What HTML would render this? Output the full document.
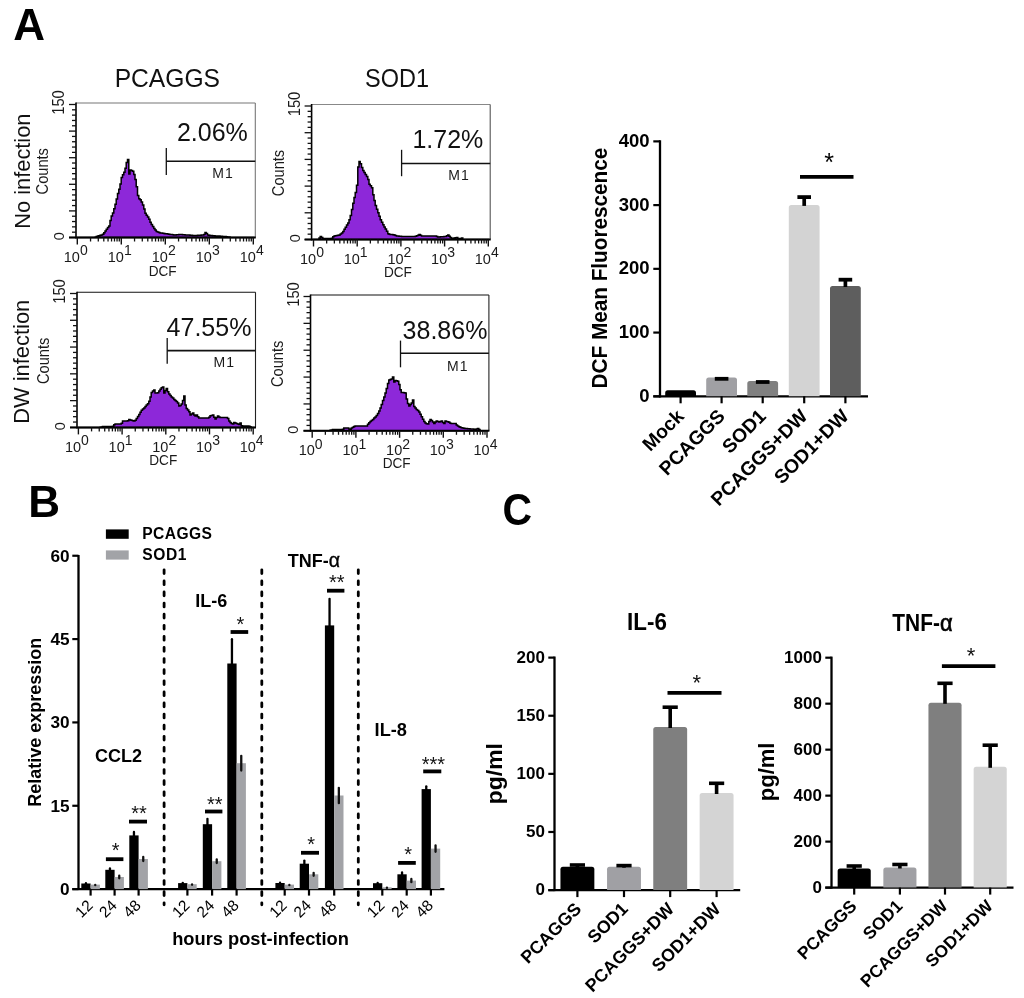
<!DOCTYPE html>
<html><head><meta charset="utf-8"><title>Figure</title>
<style>
html,body{margin:0;padding:0;background:#fff;}
body{width:1024px;height:998px;overflow:hidden;}
svg{display:block;font-family:'Liberation Sans', Arial, Helvetica, sans-serif;}
</style></head>
<body>
<svg width="1024" height="998" viewBox="0 0 1024 998">
<rect x="0" y="0" width="1024" height="998" fill="#fff"/>
<text x="13.30" y="40.30" font-size="44" font-weight="bold" text-anchor="start" fill="#000">A</text>
<text x="28.20" y="516.60" font-size="44" font-weight="bold" text-anchor="start" fill="#000">B</text>
<text x="0" y="0" transform="translate(502.50 525.00) scale(0.93 1)" font-size="44" font-weight="bold" text-anchor="start" fill="#000">C</text>
<path d="M77.0,237.5 L95.0,237.5 V237.2 H96.2 V236.6 H97.5 V236.1 H98.8 V235.7 H100.0 V235.3 H101.2 V234.9 H102.5 V234.3 H103.8 V232.7 H105.0 V231.0 H106.2 V229.3 H107.5 V227.6 H108.8 V225.9 H110.0 V220.6 H111.2 V215.9 H112.5 V212.9 H113.8 V208.8 H115.0 V204.3 H116.2 V199.1 H117.5 V193.6 H118.8 V189.2 H120.0 V183.9 H121.2 V177.6 H122.5 V174.8 H123.8 V172.2 H125.0 V168.2 H126.2 V162.6 H127.5 V159.5 H128.8 V174.0 H130.0 V170.0 H131.2 V170.4 H132.5 V171.2 H133.8 V174.5 H135.0 V179.5 H136.2 V186.8 H137.5 V195.4 H138.8 V198.7 H140.0 V199.7 H141.2 V202.1 H142.5 V205.1 H143.8 V209.1 H145.0 V213.2 H146.2 V215.2 H147.5 V217.1 H148.8 V219.3 H150.0 V222.2 H151.2 V224.5 H152.5 V226.5 H153.8 V228.4 H155.0 V229.9 H156.2 V231.4 H157.5 V231.9 H158.8 V232.4 H160.0 V232.9 H161.2 V233.1 H162.5 V233.3 H163.8 V233.5 H165.0 V233.7 H166.2 V233.8 H167.5 V234.0 H168.8 V234.2 H170.0 V234.4 H171.2 V234.6 H172.5 V234.7 H173.8 V234.9 H175.0 V235.0 H176.2 V234.8 H177.5 V234.7 H178.8 V234.6 H180.0 V234.5 H181.2 V234.6 H182.5 V234.7 H183.8 V234.8 H185.0 V234.9 H186.2 V235.0 H187.5 V235.0 H188.8 V235.1 H190.0 V235.2 H191.2 V235.3 H192.5 V235.4 H193.8 V235.5 H195.0 V235.5 H196.2 V235.4 H197.5 V235.3 H198.8 V235.3 H200.0 V235.2 H201.2 V235.1 H202.5 V235.0 H203.8 V234.5 H205.0 V232.5 H206.2 V233.6 H207.5 V235.0 H208.8 V235.3 H210.0 V235.5 H211.2 V235.6 H212.5 V235.7 H213.8 V235.8 H215.0 V235.9 H216.2 V236.0 H217.5 V236.0 H218.8 V236.1 H220.0 V236.2 H221.2 V236.3 H222.5 V236.4 H223.8 V236.5 H225.0 V236.6 H226.2 V236.7 H227.5 V236.9 H228.8 V237.1 H230.0 V237.4 H231.0 V237.5 L254.3,237.5 Z" fill="#8d28d9" stroke="#000" stroke-width="1.5" stroke-linejoin="miter"/>
<line x1="76.00" y1="103.00" x2="255.30" y2="103.00" stroke="#777" stroke-width="1.1" stroke-linecap="butt"/>
<line x1="255.30" y1="103.00" x2="255.30" y2="237.50" stroke="#777" stroke-width="1.1" stroke-linecap="butt"/>
<line x1="76.00" y1="102.50" x2="76.00" y2="238.50" stroke="#000" stroke-width="1.6" stroke-linecap="butt"/>
<line x1="69.00" y1="104.50" x2="76.00" y2="104.50" stroke="#111" stroke-width="1.3" stroke-linecap="butt"/>
<line x1="72.00" y1="109.82" x2="76.00" y2="109.82" stroke="#111" stroke-width="1.3" stroke-linecap="butt"/>
<line x1="72.00" y1="115.14" x2="76.00" y2="115.14" stroke="#111" stroke-width="1.3" stroke-linecap="butt"/>
<line x1="72.00" y1="120.46" x2="76.00" y2="120.46" stroke="#111" stroke-width="1.3" stroke-linecap="butt"/>
<line x1="72.00" y1="125.78" x2="76.00" y2="125.78" stroke="#111" stroke-width="1.3" stroke-linecap="butt"/>
<line x1="69.00" y1="131.10" x2="76.00" y2="131.10" stroke="#111" stroke-width="1.3" stroke-linecap="butt"/>
<line x1="72.00" y1="136.42" x2="76.00" y2="136.42" stroke="#111" stroke-width="1.3" stroke-linecap="butt"/>
<line x1="72.00" y1="141.74" x2="76.00" y2="141.74" stroke="#111" stroke-width="1.3" stroke-linecap="butt"/>
<line x1="72.00" y1="147.06" x2="76.00" y2="147.06" stroke="#111" stroke-width="1.3" stroke-linecap="butt"/>
<line x1="72.00" y1="152.38" x2="76.00" y2="152.38" stroke="#111" stroke-width="1.3" stroke-linecap="butt"/>
<line x1="69.00" y1="157.70" x2="76.00" y2="157.70" stroke="#111" stroke-width="1.3" stroke-linecap="butt"/>
<line x1="72.00" y1="163.02" x2="76.00" y2="163.02" stroke="#111" stroke-width="1.3" stroke-linecap="butt"/>
<line x1="72.00" y1="168.34" x2="76.00" y2="168.34" stroke="#111" stroke-width="1.3" stroke-linecap="butt"/>
<line x1="72.00" y1="173.66" x2="76.00" y2="173.66" stroke="#111" stroke-width="1.3" stroke-linecap="butt"/>
<line x1="72.00" y1="178.98" x2="76.00" y2="178.98" stroke="#111" stroke-width="1.3" stroke-linecap="butt"/>
<line x1="69.00" y1="184.30" x2="76.00" y2="184.30" stroke="#111" stroke-width="1.3" stroke-linecap="butt"/>
<line x1="72.00" y1="189.62" x2="76.00" y2="189.62" stroke="#111" stroke-width="1.3" stroke-linecap="butt"/>
<line x1="72.00" y1="194.94" x2="76.00" y2="194.94" stroke="#111" stroke-width="1.3" stroke-linecap="butt"/>
<line x1="72.00" y1="200.26" x2="76.00" y2="200.26" stroke="#111" stroke-width="1.3" stroke-linecap="butt"/>
<line x1="72.00" y1="205.58" x2="76.00" y2="205.58" stroke="#111" stroke-width="1.3" stroke-linecap="butt"/>
<line x1="69.00" y1="210.90" x2="76.00" y2="210.90" stroke="#111" stroke-width="1.3" stroke-linecap="butt"/>
<line x1="72.00" y1="216.22" x2="76.00" y2="216.22" stroke="#111" stroke-width="1.3" stroke-linecap="butt"/>
<line x1="72.00" y1="221.54" x2="76.00" y2="221.54" stroke="#111" stroke-width="1.3" stroke-linecap="butt"/>
<line x1="72.00" y1="226.86" x2="76.00" y2="226.86" stroke="#111" stroke-width="1.3" stroke-linecap="butt"/>
<line x1="72.00" y1="232.18" x2="76.00" y2="232.18" stroke="#111" stroke-width="1.3" stroke-linecap="butt"/>
<line x1="69.00" y1="237.50" x2="76.00" y2="237.50" stroke="#111" stroke-width="1.3" stroke-linecap="butt"/>
<line x1="69.00" y1="237.50" x2="255.80" y2="237.50" stroke="#000" stroke-width="2" stroke-linecap="butt"/>
<line x1="77.30" y1="237.50" x2="77.30" y2="244.50" stroke="#111" stroke-width="1.4" stroke-linecap="butt"/>
<line x1="90.55" y1="237.50" x2="90.55" y2="241.50" stroke="#111" stroke-width="1.3" stroke-linecap="butt"/>
<line x1="98.29" y1="237.50" x2="98.29" y2="241.50" stroke="#111" stroke-width="1.3" stroke-linecap="butt"/>
<line x1="103.79" y1="237.50" x2="103.79" y2="241.50" stroke="#111" stroke-width="1.3" stroke-linecap="butt"/>
<line x1="108.05" y1="237.50" x2="108.05" y2="241.50" stroke="#111" stroke-width="1.3" stroke-linecap="butt"/>
<line x1="111.54" y1="237.50" x2="111.54" y2="241.50" stroke="#111" stroke-width="1.3" stroke-linecap="butt"/>
<line x1="114.48" y1="237.50" x2="114.48" y2="241.50" stroke="#111" stroke-width="1.3" stroke-linecap="butt"/>
<line x1="117.04" y1="237.50" x2="117.04" y2="241.50" stroke="#111" stroke-width="1.3" stroke-linecap="butt"/>
<line x1="119.29" y1="237.50" x2="119.29" y2="241.50" stroke="#111" stroke-width="1.3" stroke-linecap="butt"/>
<line x1="121.30" y1="237.50" x2="121.30" y2="244.50" stroke="#111" stroke-width="1.4" stroke-linecap="butt"/>
<line x1="134.55" y1="237.50" x2="134.55" y2="241.50" stroke="#111" stroke-width="1.3" stroke-linecap="butt"/>
<line x1="142.29" y1="237.50" x2="142.29" y2="241.50" stroke="#111" stroke-width="1.3" stroke-linecap="butt"/>
<line x1="147.79" y1="237.50" x2="147.79" y2="241.50" stroke="#111" stroke-width="1.3" stroke-linecap="butt"/>
<line x1="152.05" y1="237.50" x2="152.05" y2="241.50" stroke="#111" stroke-width="1.3" stroke-linecap="butt"/>
<line x1="155.54" y1="237.50" x2="155.54" y2="241.50" stroke="#111" stroke-width="1.3" stroke-linecap="butt"/>
<line x1="158.48" y1="237.50" x2="158.48" y2="241.50" stroke="#111" stroke-width="1.3" stroke-linecap="butt"/>
<line x1="161.04" y1="237.50" x2="161.04" y2="241.50" stroke="#111" stroke-width="1.3" stroke-linecap="butt"/>
<line x1="163.29" y1="237.50" x2="163.29" y2="241.50" stroke="#111" stroke-width="1.3" stroke-linecap="butt"/>
<line x1="165.30" y1="237.50" x2="165.30" y2="244.50" stroke="#111" stroke-width="1.4" stroke-linecap="butt"/>
<line x1="178.55" y1="237.50" x2="178.55" y2="241.50" stroke="#111" stroke-width="1.3" stroke-linecap="butt"/>
<line x1="186.29" y1="237.50" x2="186.29" y2="241.50" stroke="#111" stroke-width="1.3" stroke-linecap="butt"/>
<line x1="191.79" y1="237.50" x2="191.79" y2="241.50" stroke="#111" stroke-width="1.3" stroke-linecap="butt"/>
<line x1="196.05" y1="237.50" x2="196.05" y2="241.50" stroke="#111" stroke-width="1.3" stroke-linecap="butt"/>
<line x1="199.54" y1="237.50" x2="199.54" y2="241.50" stroke="#111" stroke-width="1.3" stroke-linecap="butt"/>
<line x1="202.48" y1="237.50" x2="202.48" y2="241.50" stroke="#111" stroke-width="1.3" stroke-linecap="butt"/>
<line x1="205.04" y1="237.50" x2="205.04" y2="241.50" stroke="#111" stroke-width="1.3" stroke-linecap="butt"/>
<line x1="207.29" y1="237.50" x2="207.29" y2="241.50" stroke="#111" stroke-width="1.3" stroke-linecap="butt"/>
<line x1="209.30" y1="237.50" x2="209.30" y2="244.50" stroke="#111" stroke-width="1.4" stroke-linecap="butt"/>
<line x1="222.55" y1="237.50" x2="222.55" y2="241.50" stroke="#111" stroke-width="1.3" stroke-linecap="butt"/>
<line x1="230.29" y1="237.50" x2="230.29" y2="241.50" stroke="#111" stroke-width="1.3" stroke-linecap="butt"/>
<line x1="235.79" y1="237.50" x2="235.79" y2="241.50" stroke="#111" stroke-width="1.3" stroke-linecap="butt"/>
<line x1="240.05" y1="237.50" x2="240.05" y2="241.50" stroke="#111" stroke-width="1.3" stroke-linecap="butt"/>
<line x1="243.54" y1="237.50" x2="243.54" y2="241.50" stroke="#111" stroke-width="1.3" stroke-linecap="butt"/>
<line x1="246.48" y1="237.50" x2="246.48" y2="241.50" stroke="#111" stroke-width="1.3" stroke-linecap="butt"/>
<line x1="249.04" y1="237.50" x2="249.04" y2="241.50" stroke="#111" stroke-width="1.3" stroke-linecap="butt"/>
<line x1="251.29" y1="237.50" x2="251.29" y2="241.50" stroke="#111" stroke-width="1.3" stroke-linecap="butt"/>
<line x1="253.30" y1="237.50" x2="253.30" y2="244.50" stroke="#111" stroke-width="1.4" stroke-linecap="butt"/>
<text x="0" y="0" transform="translate(64.00 102.50) rotate(-90) scale(0.87 1)" font-size="17" text-anchor="middle" fill="#1a1a1a">150</text>
<text x="64.00" y="236.30" font-size="14.5" text-anchor="middle" fill="#1a1a1a" transform="rotate(-90 64 236.3)">0</text>
<text x="0" y="0" transform="translate(48.00 171.25) rotate(-90) scale(0.86 1)" font-size="17" text-anchor="middle" fill="#1a1a1a">Counts</text>
<text x="63.80" y="261.70" font-size="14.5" fill="#1a1a1a">10<tspan dy="-6.4" font-size="14">0</tspan></text>
<text x="107.80" y="261.70" font-size="14.5" fill="#1a1a1a">10<tspan dy="-6.4" font-size="14">1</tspan></text>
<text x="151.80" y="261.70" font-size="14.5" fill="#1a1a1a">10<tspan dy="-6.4" font-size="14">2</tspan></text>
<text x="195.80" y="261.70" font-size="14.5" fill="#1a1a1a">10<tspan dy="-6.4" font-size="14">3</tspan></text>
<text x="239.80" y="261.70" font-size="14.5" fill="#1a1a1a">10<tspan dy="-6.4" font-size="14">4</tspan></text>
<text x="0" y="0" transform="translate(162.65 276.10) scale(0.96 1)" font-size="14.2" text-anchor="middle" fill="#1a1a1a">DCF</text>
<line x1="166.30" y1="148.00" x2="166.30" y2="175.00" stroke="#111" stroke-width="1.3" stroke-linecap="butt"/>
<line x1="166.30" y1="161.30" x2="255.30" y2="161.30" stroke="#111" stroke-width="1.6" stroke-linecap="butt"/>
<text x="247.80" y="141.40" font-size="25" text-anchor="end" fill="#111">2.06%</text>
<text x="212.20" y="178.40" font-size="14" text-anchor="start" fill="#1a1a1a" letter-spacing="1.2">M1</text>
<path d="M312.6,239.5 L319.0,239.5 V237.9 H320.2 V236.5 H321.5 V237.6 H322.8 V238.5 H324.0 V238.5 H325.2 V238.5 H326.5 V238.5 H327.8 V238.5 H329.0 V238.5 H330.2 V238.5 H331.5 V238.3 H332.8 V236.8 H334.0 V235.9 H335.2 V235.7 H336.5 V235.5 H337.8 V235.3 H339.0 V235.1 H340.2 V234.1 H341.5 V232.9 H342.8 V231.4 H344.0 V229.3 H345.2 V227.2 H346.5 V225.1 H347.8 V223.0 H349.0 V219.8 H350.2 V215.4 H351.5 V209.4 H352.8 V203.2 H354.0 V197.5 H355.2 V192.5 H356.5 V185.2 H357.8 V167.0 H359.0 V161.5 H360.2 V163.8 H361.5 V167.4 H362.8 V170.6 H364.0 V172.6 H365.2 V174.6 H366.5 V176.6 H367.8 V179.5 H369.0 V184.2 H370.2 V185.7 H371.5 V187.8 H372.8 V194.8 H374.0 V200.5 H375.2 V205.5 H376.5 V209.2 H377.8 V212.7 H379.0 V216.2 H380.2 V219.7 H381.5 V222.2 H382.8 V224.8 H384.0 V227.0 H385.2 V229.0 H386.5 V231.2 H387.8 V233.8 H389.0 V234.2 H390.2 V234.4 H391.5 V234.6 H392.8 V234.8 H394.0 V234.9 H395.2 V235.4 H396.5 V236.0 H397.8 V236.1 H399.0 V236.2 H400.2 V236.3 H401.5 V236.4 H402.8 V236.5 H404.0 V236.5 H405.2 V236.5 H406.5 V236.5 H407.8 V236.5 H409.0 V236.5 H410.2 V236.5 H411.5 V236.5 H412.8 V236.5 H414.0 V236.5 H415.2 V236.2 H416.5 V235.8 H417.8 V235.3 H419.0 V234.5 H420.2 V235.2 H421.5 V236.0 H422.8 V236.0 H424.0 V236.0 H425.2 V236.0 H426.5 V236.0 H427.8 V236.0 H429.0 V236.0 H430.2 V236.0 H431.5 V236.0 H432.8 V236.0 H434.0 V236.0 H435.2 V236.0 H436.5 V236.6 H437.8 V237.0 H439.0 V236.9 H440.2 V236.8 H441.5 V236.7 H442.8 V236.7 H444.0 V236.6 H445.2 V236.5 H446.5 V235.7 H447.8 V235.0 H449.0 V236.2 H450.2 V237.4 H451.5 V238.5 H452.8 V238.2 H454.0 V238.0 H455.2 V237.7 H456.5 V237.5 H457.8 V238.5 H459.0 V239.0 H460.2 V238.4 H461.5 V238.0 H462.8 V239.5 H463.0 V239.5 L489.2,239.5 Z" fill="#8d28d9" stroke="#000" stroke-width="1.5" stroke-linejoin="miter"/>
<line x1="311.60" y1="104.50" x2="490.20" y2="104.50" stroke="#888" stroke-width="1.1" stroke-linecap="butt"/>
<line x1="490.20" y1="104.50" x2="490.20" y2="239.50" stroke="#555" stroke-width="1.1" stroke-linecap="butt"/>
<line x1="311.60" y1="104.00" x2="311.60" y2="240.50" stroke="#000" stroke-width="1.6" stroke-linecap="butt"/>
<line x1="304.60" y1="106.00" x2="311.60" y2="106.00" stroke="#111" stroke-width="1.3" stroke-linecap="butt"/>
<line x1="307.60" y1="111.34" x2="311.60" y2="111.34" stroke="#111" stroke-width="1.3" stroke-linecap="butt"/>
<line x1="307.60" y1="116.68" x2="311.60" y2="116.68" stroke="#111" stroke-width="1.3" stroke-linecap="butt"/>
<line x1="307.60" y1="122.02" x2="311.60" y2="122.02" stroke="#111" stroke-width="1.3" stroke-linecap="butt"/>
<line x1="307.60" y1="127.36" x2="311.60" y2="127.36" stroke="#111" stroke-width="1.3" stroke-linecap="butt"/>
<line x1="304.60" y1="132.70" x2="311.60" y2="132.70" stroke="#111" stroke-width="1.3" stroke-linecap="butt"/>
<line x1="307.60" y1="138.04" x2="311.60" y2="138.04" stroke="#111" stroke-width="1.3" stroke-linecap="butt"/>
<line x1="307.60" y1="143.38" x2="311.60" y2="143.38" stroke="#111" stroke-width="1.3" stroke-linecap="butt"/>
<line x1="307.60" y1="148.72" x2="311.60" y2="148.72" stroke="#111" stroke-width="1.3" stroke-linecap="butt"/>
<line x1="307.60" y1="154.06" x2="311.60" y2="154.06" stroke="#111" stroke-width="1.3" stroke-linecap="butt"/>
<line x1="304.60" y1="159.40" x2="311.60" y2="159.40" stroke="#111" stroke-width="1.3" stroke-linecap="butt"/>
<line x1="307.60" y1="164.74" x2="311.60" y2="164.74" stroke="#111" stroke-width="1.3" stroke-linecap="butt"/>
<line x1="307.60" y1="170.08" x2="311.60" y2="170.08" stroke="#111" stroke-width="1.3" stroke-linecap="butt"/>
<line x1="307.60" y1="175.42" x2="311.60" y2="175.42" stroke="#111" stroke-width="1.3" stroke-linecap="butt"/>
<line x1="307.60" y1="180.76" x2="311.60" y2="180.76" stroke="#111" stroke-width="1.3" stroke-linecap="butt"/>
<line x1="304.60" y1="186.10" x2="311.60" y2="186.10" stroke="#111" stroke-width="1.3" stroke-linecap="butt"/>
<line x1="307.60" y1="191.44" x2="311.60" y2="191.44" stroke="#111" stroke-width="1.3" stroke-linecap="butt"/>
<line x1="307.60" y1="196.78" x2="311.60" y2="196.78" stroke="#111" stroke-width="1.3" stroke-linecap="butt"/>
<line x1="307.60" y1="202.12" x2="311.60" y2="202.12" stroke="#111" stroke-width="1.3" stroke-linecap="butt"/>
<line x1="307.60" y1="207.46" x2="311.60" y2="207.46" stroke="#111" stroke-width="1.3" stroke-linecap="butt"/>
<line x1="304.60" y1="212.80" x2="311.60" y2="212.80" stroke="#111" stroke-width="1.3" stroke-linecap="butt"/>
<line x1="307.60" y1="218.14" x2="311.60" y2="218.14" stroke="#111" stroke-width="1.3" stroke-linecap="butt"/>
<line x1="307.60" y1="223.48" x2="311.60" y2="223.48" stroke="#111" stroke-width="1.3" stroke-linecap="butt"/>
<line x1="307.60" y1="228.82" x2="311.60" y2="228.82" stroke="#111" stroke-width="1.3" stroke-linecap="butt"/>
<line x1="307.60" y1="234.16" x2="311.60" y2="234.16" stroke="#111" stroke-width="1.3" stroke-linecap="butt"/>
<line x1="304.60" y1="239.50" x2="311.60" y2="239.50" stroke="#111" stroke-width="1.3" stroke-linecap="butt"/>
<line x1="304.60" y1="239.50" x2="490.70" y2="239.50" stroke="#000" stroke-width="2" stroke-linecap="butt"/>
<line x1="313.50" y1="239.50" x2="313.50" y2="246.50" stroke="#111" stroke-width="1.4" stroke-linecap="butt"/>
<line x1="326.66" y1="239.50" x2="326.66" y2="243.50" stroke="#111" stroke-width="1.3" stroke-linecap="butt"/>
<line x1="334.35" y1="239.50" x2="334.35" y2="243.50" stroke="#111" stroke-width="1.3" stroke-linecap="butt"/>
<line x1="339.81" y1="239.50" x2="339.81" y2="243.50" stroke="#111" stroke-width="1.3" stroke-linecap="butt"/>
<line x1="344.04" y1="239.50" x2="344.04" y2="243.50" stroke="#111" stroke-width="1.3" stroke-linecap="butt"/>
<line x1="347.51" y1="239.50" x2="347.51" y2="243.50" stroke="#111" stroke-width="1.3" stroke-linecap="butt"/>
<line x1="350.43" y1="239.50" x2="350.43" y2="243.50" stroke="#111" stroke-width="1.3" stroke-linecap="butt"/>
<line x1="352.97" y1="239.50" x2="352.97" y2="243.50" stroke="#111" stroke-width="1.3" stroke-linecap="butt"/>
<line x1="355.20" y1="239.50" x2="355.20" y2="243.50" stroke="#111" stroke-width="1.3" stroke-linecap="butt"/>
<line x1="357.20" y1="239.50" x2="357.20" y2="246.50" stroke="#111" stroke-width="1.4" stroke-linecap="butt"/>
<line x1="370.36" y1="239.50" x2="370.36" y2="243.50" stroke="#111" stroke-width="1.3" stroke-linecap="butt"/>
<line x1="378.05" y1="239.50" x2="378.05" y2="243.50" stroke="#111" stroke-width="1.3" stroke-linecap="butt"/>
<line x1="383.51" y1="239.50" x2="383.51" y2="243.50" stroke="#111" stroke-width="1.3" stroke-linecap="butt"/>
<line x1="387.74" y1="239.50" x2="387.74" y2="243.50" stroke="#111" stroke-width="1.3" stroke-linecap="butt"/>
<line x1="391.21" y1="239.50" x2="391.21" y2="243.50" stroke="#111" stroke-width="1.3" stroke-linecap="butt"/>
<line x1="394.13" y1="239.50" x2="394.13" y2="243.50" stroke="#111" stroke-width="1.3" stroke-linecap="butt"/>
<line x1="396.67" y1="239.50" x2="396.67" y2="243.50" stroke="#111" stroke-width="1.3" stroke-linecap="butt"/>
<line x1="398.90" y1="239.50" x2="398.90" y2="243.50" stroke="#111" stroke-width="1.3" stroke-linecap="butt"/>
<line x1="400.90" y1="239.50" x2="400.90" y2="246.50" stroke="#111" stroke-width="1.4" stroke-linecap="butt"/>
<line x1="414.06" y1="239.50" x2="414.06" y2="243.50" stroke="#111" stroke-width="1.3" stroke-linecap="butt"/>
<line x1="421.75" y1="239.50" x2="421.75" y2="243.50" stroke="#111" stroke-width="1.3" stroke-linecap="butt"/>
<line x1="427.21" y1="239.50" x2="427.21" y2="243.50" stroke="#111" stroke-width="1.3" stroke-linecap="butt"/>
<line x1="431.44" y1="239.50" x2="431.44" y2="243.50" stroke="#111" stroke-width="1.3" stroke-linecap="butt"/>
<line x1="434.91" y1="239.50" x2="434.91" y2="243.50" stroke="#111" stroke-width="1.3" stroke-linecap="butt"/>
<line x1="437.83" y1="239.50" x2="437.83" y2="243.50" stroke="#111" stroke-width="1.3" stroke-linecap="butt"/>
<line x1="440.37" y1="239.50" x2="440.37" y2="243.50" stroke="#111" stroke-width="1.3" stroke-linecap="butt"/>
<line x1="442.60" y1="239.50" x2="442.60" y2="243.50" stroke="#111" stroke-width="1.3" stroke-linecap="butt"/>
<line x1="444.60" y1="239.50" x2="444.60" y2="246.50" stroke="#111" stroke-width="1.4" stroke-linecap="butt"/>
<line x1="457.76" y1="239.50" x2="457.76" y2="243.50" stroke="#111" stroke-width="1.3" stroke-linecap="butt"/>
<line x1="465.45" y1="239.50" x2="465.45" y2="243.50" stroke="#111" stroke-width="1.3" stroke-linecap="butt"/>
<line x1="470.91" y1="239.50" x2="470.91" y2="243.50" stroke="#111" stroke-width="1.3" stroke-linecap="butt"/>
<line x1="475.14" y1="239.50" x2="475.14" y2="243.50" stroke="#111" stroke-width="1.3" stroke-linecap="butt"/>
<line x1="478.61" y1="239.50" x2="478.61" y2="243.50" stroke="#111" stroke-width="1.3" stroke-linecap="butt"/>
<line x1="481.53" y1="239.50" x2="481.53" y2="243.50" stroke="#111" stroke-width="1.3" stroke-linecap="butt"/>
<line x1="484.07" y1="239.50" x2="484.07" y2="243.50" stroke="#111" stroke-width="1.3" stroke-linecap="butt"/>
<line x1="486.30" y1="239.50" x2="486.30" y2="243.50" stroke="#111" stroke-width="1.3" stroke-linecap="butt"/>
<line x1="488.30" y1="239.50" x2="488.30" y2="246.50" stroke="#111" stroke-width="1.4" stroke-linecap="butt"/>
<text x="0" y="0" transform="translate(299.60 104.00) rotate(-90) scale(0.87 1)" font-size="17" text-anchor="middle" fill="#1a1a1a">150</text>
<text x="299.60" y="238.30" font-size="14.5" text-anchor="middle" fill="#1a1a1a" transform="rotate(-90 299.6 238.3)">0</text>
<text x="0" y="0" transform="translate(283.60 173.00) rotate(-90) scale(0.86 1)" font-size="17" text-anchor="middle" fill="#1a1a1a">Counts</text>
<text x="300.00" y="263.70" font-size="14.5" fill="#1a1a1a">10<tspan dy="-6.4" font-size="14">0</tspan></text>
<text x="343.70" y="263.70" font-size="14.5" fill="#1a1a1a">10<tspan dy="-6.4" font-size="14">1</tspan></text>
<text x="387.40" y="263.70" font-size="14.5" fill="#1a1a1a">10<tspan dy="-6.4" font-size="14">2</tspan></text>
<text x="431.10" y="263.70" font-size="14.5" fill="#1a1a1a">10<tspan dy="-6.4" font-size="14">3</tspan></text>
<text x="474.80" y="263.70" font-size="14.5" fill="#1a1a1a">10<tspan dy="-6.4" font-size="14">4</tspan></text>
<text x="0" y="0" transform="translate(397.90 276.70) scale(0.96 1)" font-size="14.2" text-anchor="middle" fill="#1a1a1a">DCF</text>
<line x1="401.60" y1="149.80" x2="401.60" y2="176.20" stroke="#111" stroke-width="1.3" stroke-linecap="butt"/>
<line x1="401.60" y1="163.50" x2="490.20" y2="163.50" stroke="#111" stroke-width="1.6" stroke-linecap="butt"/>
<text x="483.30" y="148.30" font-size="25" text-anchor="end" fill="#111">1.72%</text>
<text x="448.20" y="179.60" font-size="14" text-anchor="start" fill="#1a1a1a" letter-spacing="1.2">M1</text>
<path d="M78.0,427.4 L100.0,427.4 V427.2 H101.2 V426.9 H102.5 V426.6 H103.8 V426.5 H105.0 V426.5 H106.2 V426.5 H107.5 V426.5 H108.8 V426.5 H110.0 V426.5 H111.2 V426.5 H112.5 V426.3 H113.8 V424.8 H115.0 V424.0 H116.2 V424.0 H117.5 V424.0 H118.8 V424.0 H120.0 V424.0 H121.2 V423.2 H122.5 V421.0 H123.8 V421.0 H125.0 V421.0 H126.2 V421.0 H127.5 V420.8 H128.8 V419.5 H130.0 V419.9 H131.2 V420.3 H132.5 V420.7 H133.8 V421.0 H135.0 V420.2 H136.2 V418.5 H137.5 V416.5 H138.8 V414.4 H140.0 V412.3 H141.2 V410.2 H142.5 V409.1 H143.8 V408.1 H145.0 V406.5 H146.2 V405.1 H147.5 V403.8 H148.8 V401.2 H150.0 V396.9 H151.2 V392.4 H152.5 V390.9 H153.8 V390.0 H155.0 V393.0 H156.2 V393.0 H157.5 V392.8 H158.8 V390.9 H160.0 V389.2 H161.2 V387.8 H162.5 V387.0 H163.8 V393.0 H165.0 V390.5 H166.2 V388.5 H167.5 V391.8 H168.8 V394.0 H170.0 V395.5 H171.2 V396.9 H172.5 V398.1 H173.8 V399.4 H175.0 V400.5 H176.2 V401.6 H177.5 V402.9 H178.8 V406.0 H180.0 V405.4 H181.2 V404.0 H182.5 V400.4 H183.8 V396.0 H185.0 V405.1 H186.2 V408.4 H187.5 V409.9 H188.8 V411.8 H190.0 V415.0 H191.2 V414.1 H192.5 V413.0 H193.8 V415.1 H195.0 V416.0 H196.2 V415.0 H197.5 V416.7 H198.8 V418.0 H200.0 V418.0 H201.2 V418.0 H202.5 V418.0 H203.8 V418.0 H205.0 V418.0 H206.2 V418.0 H207.5 V418.0 H208.8 V417.2 H210.0 V415.8 H211.2 V415.5 H212.5 V415.0 H213.8 V417.3 H215.0 V419.0 H216.2 V417.4 H217.5 V416.0 H218.8 V416.9 H220.0 V417.5 H221.2 V417.5 H222.5 V417.5 H223.8 V417.5 H225.0 V417.5 H226.2 V417.5 H227.5 V418.6 H228.8 V420.9 H230.0 V422.5 H231.2 V423.5 H232.5 V424.0 H233.8 V422.5 H235.0 V423.0 H236.2 V423.6 H237.5 V424.1 H238.8 V424.5 H240.0 V423.0 H241.2 V425.8 H242.5 V426.0 H243.8 V426.0 H245.0 V426.0 H246.2 V426.0 H247.5 V426.0 H248.8 V426.2 H250.0 V426.8 H251.0 V427.4 L254.5,427.4 Z" fill="#8d28d9" stroke="#000" stroke-width="1.5" stroke-linejoin="miter"/>
<line x1="77.00" y1="292.20" x2="255.50" y2="292.20" stroke="#111" stroke-width="1.1" stroke-linecap="butt"/>
<line x1="255.50" y1="292.20" x2="255.50" y2="427.40" stroke="#222" stroke-width="1.1" stroke-linecap="butt"/>
<line x1="77.00" y1="291.70" x2="77.00" y2="428.40" stroke="#000" stroke-width="1.6" stroke-linecap="butt"/>
<line x1="70.00" y1="293.50" x2="77.00" y2="293.50" stroke="#111" stroke-width="1.3" stroke-linecap="butt"/>
<line x1="73.00" y1="298.86" x2="77.00" y2="298.86" stroke="#111" stroke-width="1.3" stroke-linecap="butt"/>
<line x1="73.00" y1="304.21" x2="77.00" y2="304.21" stroke="#111" stroke-width="1.3" stroke-linecap="butt"/>
<line x1="73.00" y1="309.57" x2="77.00" y2="309.57" stroke="#111" stroke-width="1.3" stroke-linecap="butt"/>
<line x1="73.00" y1="314.92" x2="77.00" y2="314.92" stroke="#111" stroke-width="1.3" stroke-linecap="butt"/>
<line x1="70.00" y1="320.28" x2="77.00" y2="320.28" stroke="#111" stroke-width="1.3" stroke-linecap="butt"/>
<line x1="73.00" y1="325.64" x2="77.00" y2="325.64" stroke="#111" stroke-width="1.3" stroke-linecap="butt"/>
<line x1="73.00" y1="330.99" x2="77.00" y2="330.99" stroke="#111" stroke-width="1.3" stroke-linecap="butt"/>
<line x1="73.00" y1="336.35" x2="77.00" y2="336.35" stroke="#111" stroke-width="1.3" stroke-linecap="butt"/>
<line x1="73.00" y1="341.70" x2="77.00" y2="341.70" stroke="#111" stroke-width="1.3" stroke-linecap="butt"/>
<line x1="70.00" y1="347.06" x2="77.00" y2="347.06" stroke="#111" stroke-width="1.3" stroke-linecap="butt"/>
<line x1="73.00" y1="352.42" x2="77.00" y2="352.42" stroke="#111" stroke-width="1.3" stroke-linecap="butt"/>
<line x1="73.00" y1="357.77" x2="77.00" y2="357.77" stroke="#111" stroke-width="1.3" stroke-linecap="butt"/>
<line x1="73.00" y1="363.13" x2="77.00" y2="363.13" stroke="#111" stroke-width="1.3" stroke-linecap="butt"/>
<line x1="73.00" y1="368.48" x2="77.00" y2="368.48" stroke="#111" stroke-width="1.3" stroke-linecap="butt"/>
<line x1="70.00" y1="373.84" x2="77.00" y2="373.84" stroke="#111" stroke-width="1.3" stroke-linecap="butt"/>
<line x1="73.00" y1="379.20" x2="77.00" y2="379.20" stroke="#111" stroke-width="1.3" stroke-linecap="butt"/>
<line x1="73.00" y1="384.55" x2="77.00" y2="384.55" stroke="#111" stroke-width="1.3" stroke-linecap="butt"/>
<line x1="73.00" y1="389.91" x2="77.00" y2="389.91" stroke="#111" stroke-width="1.3" stroke-linecap="butt"/>
<line x1="73.00" y1="395.26" x2="77.00" y2="395.26" stroke="#111" stroke-width="1.3" stroke-linecap="butt"/>
<line x1="70.00" y1="400.62" x2="77.00" y2="400.62" stroke="#111" stroke-width="1.3" stroke-linecap="butt"/>
<line x1="73.00" y1="405.98" x2="77.00" y2="405.98" stroke="#111" stroke-width="1.3" stroke-linecap="butt"/>
<line x1="73.00" y1="411.33" x2="77.00" y2="411.33" stroke="#111" stroke-width="1.3" stroke-linecap="butt"/>
<line x1="73.00" y1="416.69" x2="77.00" y2="416.69" stroke="#111" stroke-width="1.3" stroke-linecap="butt"/>
<line x1="73.00" y1="422.04" x2="77.00" y2="422.04" stroke="#111" stroke-width="1.3" stroke-linecap="butt"/>
<line x1="70.00" y1="427.40" x2="77.00" y2="427.40" stroke="#111" stroke-width="1.3" stroke-linecap="butt"/>
<line x1="70.00" y1="427.40" x2="256.00" y2="427.40" stroke="#000" stroke-width="2" stroke-linecap="butt"/>
<line x1="78.40" y1="427.40" x2="78.40" y2="434.40" stroke="#111" stroke-width="1.4" stroke-linecap="butt"/>
<line x1="91.56" y1="427.40" x2="91.56" y2="431.40" stroke="#111" stroke-width="1.3" stroke-linecap="butt"/>
<line x1="99.25" y1="427.40" x2="99.25" y2="431.40" stroke="#111" stroke-width="1.3" stroke-linecap="butt"/>
<line x1="104.71" y1="427.40" x2="104.71" y2="431.40" stroke="#111" stroke-width="1.3" stroke-linecap="butt"/>
<line x1="108.94" y1="427.40" x2="108.94" y2="431.40" stroke="#111" stroke-width="1.3" stroke-linecap="butt"/>
<line x1="112.41" y1="427.40" x2="112.41" y2="431.40" stroke="#111" stroke-width="1.3" stroke-linecap="butt"/>
<line x1="115.33" y1="427.40" x2="115.33" y2="431.40" stroke="#111" stroke-width="1.3" stroke-linecap="butt"/>
<line x1="117.87" y1="427.40" x2="117.87" y2="431.40" stroke="#111" stroke-width="1.3" stroke-linecap="butt"/>
<line x1="120.10" y1="427.40" x2="120.10" y2="431.40" stroke="#111" stroke-width="1.3" stroke-linecap="butt"/>
<line x1="122.10" y1="427.40" x2="122.10" y2="434.40" stroke="#111" stroke-width="1.4" stroke-linecap="butt"/>
<line x1="135.26" y1="427.40" x2="135.26" y2="431.40" stroke="#111" stroke-width="1.3" stroke-linecap="butt"/>
<line x1="142.95" y1="427.40" x2="142.95" y2="431.40" stroke="#111" stroke-width="1.3" stroke-linecap="butt"/>
<line x1="148.41" y1="427.40" x2="148.41" y2="431.40" stroke="#111" stroke-width="1.3" stroke-linecap="butt"/>
<line x1="152.64" y1="427.40" x2="152.64" y2="431.40" stroke="#111" stroke-width="1.3" stroke-linecap="butt"/>
<line x1="156.11" y1="427.40" x2="156.11" y2="431.40" stroke="#111" stroke-width="1.3" stroke-linecap="butt"/>
<line x1="159.03" y1="427.40" x2="159.03" y2="431.40" stroke="#111" stroke-width="1.3" stroke-linecap="butt"/>
<line x1="161.57" y1="427.40" x2="161.57" y2="431.40" stroke="#111" stroke-width="1.3" stroke-linecap="butt"/>
<line x1="163.80" y1="427.40" x2="163.80" y2="431.40" stroke="#111" stroke-width="1.3" stroke-linecap="butt"/>
<line x1="165.80" y1="427.40" x2="165.80" y2="434.40" stroke="#111" stroke-width="1.4" stroke-linecap="butt"/>
<line x1="178.96" y1="427.40" x2="178.96" y2="431.40" stroke="#111" stroke-width="1.3" stroke-linecap="butt"/>
<line x1="186.65" y1="427.40" x2="186.65" y2="431.40" stroke="#111" stroke-width="1.3" stroke-linecap="butt"/>
<line x1="192.11" y1="427.40" x2="192.11" y2="431.40" stroke="#111" stroke-width="1.3" stroke-linecap="butt"/>
<line x1="196.34" y1="427.40" x2="196.34" y2="431.40" stroke="#111" stroke-width="1.3" stroke-linecap="butt"/>
<line x1="199.81" y1="427.40" x2="199.81" y2="431.40" stroke="#111" stroke-width="1.3" stroke-linecap="butt"/>
<line x1="202.73" y1="427.40" x2="202.73" y2="431.40" stroke="#111" stroke-width="1.3" stroke-linecap="butt"/>
<line x1="205.27" y1="427.40" x2="205.27" y2="431.40" stroke="#111" stroke-width="1.3" stroke-linecap="butt"/>
<line x1="207.50" y1="427.40" x2="207.50" y2="431.40" stroke="#111" stroke-width="1.3" stroke-linecap="butt"/>
<line x1="209.50" y1="427.40" x2="209.50" y2="434.40" stroke="#111" stroke-width="1.4" stroke-linecap="butt"/>
<line x1="222.66" y1="427.40" x2="222.66" y2="431.40" stroke="#111" stroke-width="1.3" stroke-linecap="butt"/>
<line x1="230.35" y1="427.40" x2="230.35" y2="431.40" stroke="#111" stroke-width="1.3" stroke-linecap="butt"/>
<line x1="235.81" y1="427.40" x2="235.81" y2="431.40" stroke="#111" stroke-width="1.3" stroke-linecap="butt"/>
<line x1="240.04" y1="427.40" x2="240.04" y2="431.40" stroke="#111" stroke-width="1.3" stroke-linecap="butt"/>
<line x1="243.51" y1="427.40" x2="243.51" y2="431.40" stroke="#111" stroke-width="1.3" stroke-linecap="butt"/>
<line x1="246.43" y1="427.40" x2="246.43" y2="431.40" stroke="#111" stroke-width="1.3" stroke-linecap="butt"/>
<line x1="248.97" y1="427.40" x2="248.97" y2="431.40" stroke="#111" stroke-width="1.3" stroke-linecap="butt"/>
<line x1="251.20" y1="427.40" x2="251.20" y2="431.40" stroke="#111" stroke-width="1.3" stroke-linecap="butt"/>
<line x1="253.20" y1="427.40" x2="253.20" y2="434.40" stroke="#111" stroke-width="1.4" stroke-linecap="butt"/>
<text x="0" y="0" transform="translate(65.00 291.50) rotate(-90) scale(0.87 1)" font-size="17" text-anchor="middle" fill="#1a1a1a">150</text>
<text x="65.00" y="426.20" font-size="14.5" text-anchor="middle" fill="#1a1a1a" transform="rotate(-90 65 426.2)">0</text>
<text x="0" y="0" transform="translate(49.00 360.80) rotate(-90) scale(0.86 1)" font-size="17" text-anchor="middle" fill="#1a1a1a">Counts</text>
<text x="64.90" y="451.60" font-size="14.5" fill="#1a1a1a">10<tspan dy="-6.4" font-size="14">0</tspan></text>
<text x="108.60" y="451.60" font-size="14.5" fill="#1a1a1a">10<tspan dy="-6.4" font-size="14">1</tspan></text>
<text x="152.30" y="451.60" font-size="14.5" fill="#1a1a1a">10<tspan dy="-6.4" font-size="14">2</tspan></text>
<text x="196.00" y="451.60" font-size="14.5" fill="#1a1a1a">10<tspan dy="-6.4" font-size="14">3</tspan></text>
<text x="239.70" y="451.60" font-size="14.5" fill="#1a1a1a">10<tspan dy="-6.4" font-size="14">4</tspan></text>
<text x="0" y="0" transform="translate(163.25 464.80) scale(0.96 1)" font-size="14.2" text-anchor="middle" fill="#1a1a1a">DCF</text>
<line x1="167.20" y1="337.90" x2="167.20" y2="363.80" stroke="#111" stroke-width="1.3" stroke-linecap="butt"/>
<line x1="167.20" y1="350.60" x2="255.50" y2="350.60" stroke="#111" stroke-width="1.6" stroke-linecap="butt"/>
<text x="251.40" y="336.20" font-size="25" text-anchor="end" fill="#111">47.55%</text>
<text x="213.50" y="367.10" font-size="14" text-anchor="start" fill="#1a1a1a" letter-spacing="1.2">M1</text>
<path d="M311.5,430.8 L330.0,430.8 V430.3 H331.2 V429.9 H332.5 V429.5 H333.8 V429.5 H335.0 V429.5 H336.2 V429.5 H337.5 V429.5 H338.8 V429.5 H340.0 V429.5 H341.2 V431.0 H342.5 V429.3 H343.8 V428.0 H345.0 V428.0 H346.2 V428.0 H347.5 V428.1 H348.8 V429.0 H350.0 V429.5 H351.2 V428.1 H352.5 V427.2 H353.8 V426.4 H355.0 V426.0 H356.2 V426.0 H357.5 V426.0 H358.8 V426.0 H360.0 V426.0 H361.2 V426.0 H362.5 V426.0 H363.8 V426.0 H365.0 V426.0 H366.2 V426.0 H367.5 V424.3 H368.8 V422.7 H370.0 V421.6 H371.2 V420.5 H372.5 V419.4 H373.8 V418.1 H375.0 V416.9 H376.2 V415.4 H377.5 V413.4 H378.8 V411.1 H380.0 V407.9 H381.2 V404.4 H382.5 V400.6 H383.8 V396.9 H385.0 V392.9 H386.2 V388.5 H387.5 V383.5 H388.8 V379.9 H390.0 V379.5 H391.2 V379.0 H392.5 V377.0 H393.8 V382.0 H395.0 V380.5 H396.2 V380.7 H397.5 V381.3 H398.8 V384.4 H400.0 V389.8 H401.2 V392.4 H402.5 V392.6 H403.8 V392.8 H405.0 V393.0 H406.2 V399.1 H407.5 V403.4 H408.8 V406.0 H410.0 V404.4 H411.2 V403.1 H412.5 V400.0 H413.8 V406.4 H415.0 V408.1 H416.2 V409.4 H417.5 V410.6 H418.8 V411.9 H420.0 V414.2 H421.2 V416.8 H422.5 V419.2 H423.8 V421.5 H425.0 V423.0 H426.2 V423.7 H427.5 V424.0 H428.8 V421.4 H430.0 V419.5 H431.2 V420.6 H432.5 V422.0 H433.8 V423.5 H435.0 V421.9 H436.2 V421.0 H437.5 V421.5 H438.8 V422.0 H440.0 V421.6 H441.2 V421.0 H442.5 V422.4 H443.8 V423.5 H445.0 V421.0 H446.2 V421.4 H447.5 V421.8 H448.8 V422.3 H450.0 V423.2 H451.2 V423.5 H452.5 V423.5 H453.8 V423.5 H455.0 V423.6 H456.2 V424.9 H457.5 V426.1 H458.8 V426.7 H460.0 V427.3 H461.2 V427.7 H462.5 V428.0 H463.8 V428.3 H465.0 V428.5 H466.2 V428.6 H467.5 V428.7 H468.8 V428.8 H470.0 V428.9 H471.2 V428.9 H472.5 V429.0 H473.8 V429.2 H475.0 V429.5 H476.2 V429.1 H477.5 V428.5 H478.8 V429.5 H480.0 V430.8 L487.9,430.8 Z" fill="#8d28d9" stroke="#000" stroke-width="1.5" stroke-linejoin="miter"/>
<line x1="310.50" y1="295.00" x2="488.90" y2="295.00" stroke="#111" stroke-width="1.1" stroke-linecap="butt"/>
<line x1="488.90" y1="295.00" x2="488.90" y2="430.80" stroke="#222" stroke-width="1.1" stroke-linecap="butt"/>
<line x1="310.50" y1="294.50" x2="310.50" y2="431.80" stroke="#000" stroke-width="1.6" stroke-linecap="butt"/>
<line x1="303.50" y1="296.50" x2="310.50" y2="296.50" stroke="#111" stroke-width="1.3" stroke-linecap="butt"/>
<line x1="306.50" y1="301.87" x2="310.50" y2="301.87" stroke="#111" stroke-width="1.3" stroke-linecap="butt"/>
<line x1="306.50" y1="307.24" x2="310.50" y2="307.24" stroke="#111" stroke-width="1.3" stroke-linecap="butt"/>
<line x1="306.50" y1="312.62" x2="310.50" y2="312.62" stroke="#111" stroke-width="1.3" stroke-linecap="butt"/>
<line x1="306.50" y1="317.99" x2="310.50" y2="317.99" stroke="#111" stroke-width="1.3" stroke-linecap="butt"/>
<line x1="303.50" y1="323.36" x2="310.50" y2="323.36" stroke="#111" stroke-width="1.3" stroke-linecap="butt"/>
<line x1="306.50" y1="328.73" x2="310.50" y2="328.73" stroke="#111" stroke-width="1.3" stroke-linecap="butt"/>
<line x1="306.50" y1="334.10" x2="310.50" y2="334.10" stroke="#111" stroke-width="1.3" stroke-linecap="butt"/>
<line x1="306.50" y1="339.48" x2="310.50" y2="339.48" stroke="#111" stroke-width="1.3" stroke-linecap="butt"/>
<line x1="306.50" y1="344.85" x2="310.50" y2="344.85" stroke="#111" stroke-width="1.3" stroke-linecap="butt"/>
<line x1="303.50" y1="350.22" x2="310.50" y2="350.22" stroke="#111" stroke-width="1.3" stroke-linecap="butt"/>
<line x1="306.50" y1="355.59" x2="310.50" y2="355.59" stroke="#111" stroke-width="1.3" stroke-linecap="butt"/>
<line x1="306.50" y1="360.96" x2="310.50" y2="360.96" stroke="#111" stroke-width="1.3" stroke-linecap="butt"/>
<line x1="306.50" y1="366.34" x2="310.50" y2="366.34" stroke="#111" stroke-width="1.3" stroke-linecap="butt"/>
<line x1="306.50" y1="371.71" x2="310.50" y2="371.71" stroke="#111" stroke-width="1.3" stroke-linecap="butt"/>
<line x1="303.50" y1="377.08" x2="310.50" y2="377.08" stroke="#111" stroke-width="1.3" stroke-linecap="butt"/>
<line x1="306.50" y1="382.45" x2="310.50" y2="382.45" stroke="#111" stroke-width="1.3" stroke-linecap="butt"/>
<line x1="306.50" y1="387.82" x2="310.50" y2="387.82" stroke="#111" stroke-width="1.3" stroke-linecap="butt"/>
<line x1="306.50" y1="393.20" x2="310.50" y2="393.20" stroke="#111" stroke-width="1.3" stroke-linecap="butt"/>
<line x1="306.50" y1="398.57" x2="310.50" y2="398.57" stroke="#111" stroke-width="1.3" stroke-linecap="butt"/>
<line x1="303.50" y1="403.94" x2="310.50" y2="403.94" stroke="#111" stroke-width="1.3" stroke-linecap="butt"/>
<line x1="306.50" y1="409.31" x2="310.50" y2="409.31" stroke="#111" stroke-width="1.3" stroke-linecap="butt"/>
<line x1="306.50" y1="414.68" x2="310.50" y2="414.68" stroke="#111" stroke-width="1.3" stroke-linecap="butt"/>
<line x1="306.50" y1="420.06" x2="310.50" y2="420.06" stroke="#111" stroke-width="1.3" stroke-linecap="butt"/>
<line x1="306.50" y1="425.43" x2="310.50" y2="425.43" stroke="#111" stroke-width="1.3" stroke-linecap="butt"/>
<line x1="303.50" y1="430.80" x2="310.50" y2="430.80" stroke="#111" stroke-width="1.3" stroke-linecap="butt"/>
<line x1="303.50" y1="430.80" x2="489.40" y2="430.80" stroke="#000" stroke-width="2" stroke-linecap="butt"/>
<line x1="312.20" y1="430.80" x2="312.20" y2="437.80" stroke="#111" stroke-width="1.4" stroke-linecap="butt"/>
<line x1="325.36" y1="430.80" x2="325.36" y2="434.80" stroke="#111" stroke-width="1.3" stroke-linecap="butt"/>
<line x1="333.05" y1="430.80" x2="333.05" y2="434.80" stroke="#111" stroke-width="1.3" stroke-linecap="butt"/>
<line x1="338.51" y1="430.80" x2="338.51" y2="434.80" stroke="#111" stroke-width="1.3" stroke-linecap="butt"/>
<line x1="342.74" y1="430.80" x2="342.74" y2="434.80" stroke="#111" stroke-width="1.3" stroke-linecap="butt"/>
<line x1="346.21" y1="430.80" x2="346.21" y2="434.80" stroke="#111" stroke-width="1.3" stroke-linecap="butt"/>
<line x1="349.13" y1="430.80" x2="349.13" y2="434.80" stroke="#111" stroke-width="1.3" stroke-linecap="butt"/>
<line x1="351.67" y1="430.80" x2="351.67" y2="434.80" stroke="#111" stroke-width="1.3" stroke-linecap="butt"/>
<line x1="353.90" y1="430.80" x2="353.90" y2="434.80" stroke="#111" stroke-width="1.3" stroke-linecap="butt"/>
<line x1="355.90" y1="430.80" x2="355.90" y2="437.80" stroke="#111" stroke-width="1.4" stroke-linecap="butt"/>
<line x1="369.06" y1="430.80" x2="369.06" y2="434.80" stroke="#111" stroke-width="1.3" stroke-linecap="butt"/>
<line x1="376.75" y1="430.80" x2="376.75" y2="434.80" stroke="#111" stroke-width="1.3" stroke-linecap="butt"/>
<line x1="382.21" y1="430.80" x2="382.21" y2="434.80" stroke="#111" stroke-width="1.3" stroke-linecap="butt"/>
<line x1="386.44" y1="430.80" x2="386.44" y2="434.80" stroke="#111" stroke-width="1.3" stroke-linecap="butt"/>
<line x1="389.91" y1="430.80" x2="389.91" y2="434.80" stroke="#111" stroke-width="1.3" stroke-linecap="butt"/>
<line x1="392.83" y1="430.80" x2="392.83" y2="434.80" stroke="#111" stroke-width="1.3" stroke-linecap="butt"/>
<line x1="395.37" y1="430.80" x2="395.37" y2="434.80" stroke="#111" stroke-width="1.3" stroke-linecap="butt"/>
<line x1="397.60" y1="430.80" x2="397.60" y2="434.80" stroke="#111" stroke-width="1.3" stroke-linecap="butt"/>
<line x1="399.60" y1="430.80" x2="399.60" y2="437.80" stroke="#111" stroke-width="1.4" stroke-linecap="butt"/>
<line x1="412.76" y1="430.80" x2="412.76" y2="434.80" stroke="#111" stroke-width="1.3" stroke-linecap="butt"/>
<line x1="420.45" y1="430.80" x2="420.45" y2="434.80" stroke="#111" stroke-width="1.3" stroke-linecap="butt"/>
<line x1="425.91" y1="430.80" x2="425.91" y2="434.80" stroke="#111" stroke-width="1.3" stroke-linecap="butt"/>
<line x1="430.14" y1="430.80" x2="430.14" y2="434.80" stroke="#111" stroke-width="1.3" stroke-linecap="butt"/>
<line x1="433.61" y1="430.80" x2="433.61" y2="434.80" stroke="#111" stroke-width="1.3" stroke-linecap="butt"/>
<line x1="436.53" y1="430.80" x2="436.53" y2="434.80" stroke="#111" stroke-width="1.3" stroke-linecap="butt"/>
<line x1="439.07" y1="430.80" x2="439.07" y2="434.80" stroke="#111" stroke-width="1.3" stroke-linecap="butt"/>
<line x1="441.30" y1="430.80" x2="441.30" y2="434.80" stroke="#111" stroke-width="1.3" stroke-linecap="butt"/>
<line x1="443.30" y1="430.80" x2="443.30" y2="437.80" stroke="#111" stroke-width="1.4" stroke-linecap="butt"/>
<line x1="456.46" y1="430.80" x2="456.46" y2="434.80" stroke="#111" stroke-width="1.3" stroke-linecap="butt"/>
<line x1="464.15" y1="430.80" x2="464.15" y2="434.80" stroke="#111" stroke-width="1.3" stroke-linecap="butt"/>
<line x1="469.61" y1="430.80" x2="469.61" y2="434.80" stroke="#111" stroke-width="1.3" stroke-linecap="butt"/>
<line x1="473.84" y1="430.80" x2="473.84" y2="434.80" stroke="#111" stroke-width="1.3" stroke-linecap="butt"/>
<line x1="477.31" y1="430.80" x2="477.31" y2="434.80" stroke="#111" stroke-width="1.3" stroke-linecap="butt"/>
<line x1="480.23" y1="430.80" x2="480.23" y2="434.80" stroke="#111" stroke-width="1.3" stroke-linecap="butt"/>
<line x1="482.77" y1="430.80" x2="482.77" y2="434.80" stroke="#111" stroke-width="1.3" stroke-linecap="butt"/>
<line x1="485.00" y1="430.80" x2="485.00" y2="434.80" stroke="#111" stroke-width="1.3" stroke-linecap="butt"/>
<line x1="487.00" y1="430.80" x2="487.00" y2="437.80" stroke="#111" stroke-width="1.4" stroke-linecap="butt"/>
<text x="0" y="0" transform="translate(298.50 294.50) rotate(-90) scale(0.87 1)" font-size="17" text-anchor="middle" fill="#1a1a1a">150</text>
<text x="298.50" y="429.60" font-size="14.5" text-anchor="middle" fill="#1a1a1a" transform="rotate(-90 298.5 429.6)">0</text>
<text x="0" y="0" transform="translate(282.50 363.90) rotate(-90) scale(0.86 1)" font-size="17" text-anchor="middle" fill="#1a1a1a">Counts</text>
<text x="298.70" y="455.00" font-size="14.5" fill="#1a1a1a">10<tspan dy="-6.4" font-size="14">0</tspan></text>
<text x="342.40" y="455.00" font-size="14.5" fill="#1a1a1a">10<tspan dy="-6.4" font-size="14">1</tspan></text>
<text x="386.10" y="455.00" font-size="14.5" fill="#1a1a1a">10<tspan dy="-6.4" font-size="14">2</tspan></text>
<text x="429.80" y="455.00" font-size="14.5" fill="#1a1a1a">10<tspan dy="-6.4" font-size="14">3</tspan></text>
<text x="473.50" y="455.00" font-size="14.5" fill="#1a1a1a">10<tspan dy="-6.4" font-size="14">4</tspan></text>
<text x="0" y="0" transform="translate(396.70 468.00) scale(0.96 1)" font-size="14.2" text-anchor="middle" fill="#1a1a1a">DCF</text>
<line x1="400.50" y1="340.60" x2="400.50" y2="367.30" stroke="#111" stroke-width="1.3" stroke-linecap="butt"/>
<line x1="400.50" y1="353.30" x2="488.90" y2="353.30" stroke="#111" stroke-width="1.6" stroke-linecap="butt"/>
<text x="487.40" y="338.60" font-size="25" text-anchor="end" fill="#111">38.86%</text>
<text x="447.00" y="371.00" font-size="14" text-anchor="start" fill="#1a1a1a" letter-spacing="1.2">M1</text>
<text x="0" y="0" transform="translate(167.30 87.20) scale(0.985 1)" font-size="25" text-anchor="middle" fill="#111">PCAGGS</text>
<text x="0" y="0" transform="translate(397.00 87.20) scale(0.94 1)" font-size="25" text-anchor="middle" fill="#111">SOD1</text>
<text x="30.00" y="171.10" font-size="21.8" text-anchor="middle" fill="#111" transform="rotate(-90 30 171.1)">No infection</text>
<text x="28.70" y="361.80" font-size="21.9" text-anchor="middle" fill="#111" transform="rotate(-90 28.7 361.8)">DW infection</text>
<line x1="660.00" y1="140.30" x2="660.00" y2="397.40" stroke="#000" stroke-width="2.3" stroke-linecap="butt"/>
<line x1="653.30" y1="396.30" x2="868.00" y2="396.30" stroke="#000" stroke-width="2.3" stroke-linecap="butt"/>
<line x1="653.30" y1="396.30" x2="660.00" y2="396.30" stroke="#000" stroke-width="2.2" stroke-linecap="butt"/>
<text x="649.50" y="401.70" font-size="18.5" font-weight="bold" text-anchor="end" fill="#000">0</text>
<line x1="653.30" y1="332.57" x2="660.00" y2="332.57" stroke="#000" stroke-width="2.2" stroke-linecap="butt"/>
<text x="649.50" y="337.97" font-size="18.5" font-weight="bold" text-anchor="end" fill="#000">100</text>
<line x1="653.30" y1="268.84" x2="660.00" y2="268.84" stroke="#000" stroke-width="2.2" stroke-linecap="butt"/>
<text x="649.50" y="274.24" font-size="18.5" font-weight="bold" text-anchor="end" fill="#000">200</text>
<line x1="653.30" y1="205.11" x2="660.00" y2="205.11" stroke="#000" stroke-width="2.2" stroke-linecap="butt"/>
<text x="649.50" y="210.51" font-size="18.5" font-weight="bold" text-anchor="end" fill="#000">300</text>
<line x1="653.30" y1="141.38" x2="660.00" y2="141.38" stroke="#000" stroke-width="2.2" stroke-linecap="butt"/>
<text x="649.50" y="146.78" font-size="18.5" font-weight="bold" text-anchor="end" fill="#000">400</text>
<path d="M665.20,396.30 L665.20,392.70 Q665.20,390.20 667.70,390.20 L693.50,390.20 Q696.00,390.20 696.00,392.70 L696.00,396.30 Z" fill="#000"/>
<line x1="680.60" y1="396.30" x2="680.60" y2="403.30" stroke="#000" stroke-width="2.2" stroke-linecap="butt"/>
<path d="M706.20,396.30 L706.20,380.00 Q706.20,377.50 708.70,377.50 L734.50,377.50 Q737.00,377.50 737.00,380.00 L737.00,396.30 Z" fill="#a0a0a4"/>
<line x1="721.60" y1="396.30" x2="721.60" y2="403.30" stroke="#000" stroke-width="2.2" stroke-linecap="butt"/>
<line x1="721.60" y1="378.80" x2="721.60" y2="378.50" stroke="#000" stroke-width="3.7" stroke-linecap="butt"/>
<line x1="714.80" y1="378.80" x2="728.40" y2="378.80" stroke="#000" stroke-width="3.8" stroke-linecap="butt"/>
<path d="M747.30,396.30 L747.30,383.50 Q747.30,381.00 749.80,381.00 L775.60,381.00 Q778.10,381.00 778.10,383.50 L778.10,396.30 Z" fill="#808080"/>
<line x1="762.70" y1="396.30" x2="762.70" y2="403.30" stroke="#000" stroke-width="2.2" stroke-linecap="butt"/>
<line x1="762.70" y1="382.00" x2="762.70" y2="382.00" stroke="#000" stroke-width="3.7" stroke-linecap="butt"/>
<line x1="755.90" y1="382.00" x2="769.50" y2="382.00" stroke="#000" stroke-width="3.8" stroke-linecap="butt"/>
<path d="M788.80,396.30 L788.80,207.40 Q788.80,204.90 791.30,204.90 L817.10,204.90 Q819.60,204.90 819.60,207.40 L819.60,396.30 Z" fill="#d3d3d3"/>
<line x1="804.20" y1="396.30" x2="804.20" y2="403.30" stroke="#000" stroke-width="2.2" stroke-linecap="butt"/>
<line x1="804.20" y1="197.10" x2="804.20" y2="205.90" stroke="#000" stroke-width="3.7" stroke-linecap="butt"/>
<line x1="797.40" y1="197.10" x2="811.00" y2="197.10" stroke="#000" stroke-width="3.8" stroke-linecap="butt"/>
<path d="M830.00,396.30 L830.00,288.50 Q830.00,286.00 832.50,286.00 L858.30,286.00 Q860.80,286.00 860.80,288.50 L860.80,396.30 Z" fill="#5e5e5e"/>
<line x1="845.40" y1="396.30" x2="845.40" y2="403.30" stroke="#000" stroke-width="2.2" stroke-linecap="butt"/>
<line x1="845.40" y1="279.70" x2="845.40" y2="287.00" stroke="#000" stroke-width="3.7" stroke-linecap="butt"/>
<line x1="838.60" y1="279.70" x2="852.20" y2="279.70" stroke="#000" stroke-width="3.8" stroke-linecap="butt"/>
<line x1="800.00" y1="176.90" x2="853.50" y2="176.90" stroke="#000" stroke-width="3.9" stroke-linecap="butt"/>
<text x="829.20" y="170.50" font-size="25" text-anchor="middle" fill="#000">*</text>
<text x="0" y="0" transform="translate(606.90 268.10) rotate(-90) scale(0.965 1)" font-size="21.5" font-weight="bold" text-anchor="middle" fill="#000">DCF Mean Fluorescence</text>
<text x="685.00" y="417.30" font-size="19.3" font-weight="bold" text-anchor="end" fill="#000" transform="rotate(-45 685.0 417.3)">Mock</text>
<text x="726.00" y="417.30" font-size="19.3" font-weight="bold" text-anchor="end" fill="#000" transform="rotate(-45 726.0 417.3)">PCAGGS</text>
<text x="767.10" y="417.30" font-size="19.3" font-weight="bold" text-anchor="end" fill="#000" transform="rotate(-45 767.1 417.3)">SOD1</text>
<text x="808.60" y="417.30" font-size="19.3" font-weight="bold" text-anchor="end" fill="#000" transform="rotate(-45 808.6 417.3)">PCAGGS+DW</text>
<text x="849.80" y="417.30" font-size="19.3" font-weight="bold" text-anchor="end" fill="#000" transform="rotate(-45 849.8 417.3)">SOD1+DW</text>
<line x1="78.50" y1="555.00" x2="78.50" y2="890.00" stroke="#000" stroke-width="2.3" stroke-linecap="butt"/>
<line x1="72.30" y1="889.10" x2="444.40" y2="889.10" stroke="#000" stroke-width="2.3" stroke-linecap="butt"/>
<line x1="72.30" y1="889.10" x2="78.50" y2="889.10" stroke="#000" stroke-width="2.2" stroke-linecap="butt"/>
<text x="69.50" y="895.10" font-size="17.2" font-weight="bold" text-anchor="end" fill="#000">0</text>
<line x1="72.30" y1="805.76" x2="78.50" y2="805.76" stroke="#000" stroke-width="2.2" stroke-linecap="butt"/>
<text x="69.50" y="811.76" font-size="17.2" font-weight="bold" text-anchor="end" fill="#000">15</text>
<line x1="72.30" y1="722.42" x2="78.50" y2="722.42" stroke="#000" stroke-width="2.2" stroke-linecap="butt"/>
<text x="69.50" y="728.42" font-size="17.2" font-weight="bold" text-anchor="end" fill="#000">30</text>
<line x1="72.30" y1="639.08" x2="78.50" y2="639.08" stroke="#000" stroke-width="2.2" stroke-linecap="butt"/>
<text x="69.50" y="645.08" font-size="17.2" font-weight="bold" text-anchor="end" fill="#000">45</text>
<line x1="72.30" y1="555.74" x2="78.50" y2="555.74" stroke="#000" stroke-width="2.2" stroke-linecap="butt"/>
<text x="69.50" y="561.74" font-size="17.2" font-weight="bold" text-anchor="end" fill="#000">60</text>
<rect x="81.30" y="883.50" width="9.30" height="5.60" fill="#000"/>
<rect x="90.60" y="884.60" width="9.30" height="4.50" fill="#a2a3a7"/>
<line x1="85.95" y1="883.20" x2="85.95" y2="884.50" stroke="#000" stroke-width="2.3" stroke-linecap="round"/>
<line x1="95.25" y1="884.90" x2="95.25" y2="885.20" stroke="#111" stroke-width="2.3" stroke-linecap="round"/>
<line x1="90.60" y1="889.10" x2="90.60" y2="895.60" stroke="#000" stroke-width="2.2" stroke-linecap="butt"/>
<rect x="105.30" y="869.80" width="9.30" height="19.30" fill="#000"/>
<rect x="114.60" y="877.00" width="9.30" height="12.10" fill="#a2a3a7"/>
<line x1="109.95" y1="868.50" x2="109.95" y2="870.80" stroke="#000" stroke-width="2.3" stroke-linecap="round"/>
<line x1="119.25" y1="875.70" x2="119.25" y2="878.30" stroke="#111" stroke-width="2.3" stroke-linecap="round"/>
<line x1="114.60" y1="889.10" x2="114.60" y2="895.60" stroke="#000" stroke-width="2.2" stroke-linecap="butt"/>
<rect x="129.30" y="835.40" width="9.30" height="53.70" fill="#000"/>
<rect x="138.60" y="859.00" width="9.30" height="30.10" fill="#a2a3a7"/>
<line x1="133.95" y1="831.90" x2="133.95" y2="836.40" stroke="#000" stroke-width="2.3" stroke-linecap="round"/>
<line x1="143.25" y1="856.90" x2="143.25" y2="861.10" stroke="#111" stroke-width="2.3" stroke-linecap="round"/>
<line x1="138.60" y1="889.10" x2="138.60" y2="895.60" stroke="#000" stroke-width="2.2" stroke-linecap="butt"/>
<rect x="178.10" y="883.10" width="9.30" height="6.00" fill="#000"/>
<rect x="187.40" y="884.20" width="9.30" height="4.90" fill="#a2a3a7"/>
<line x1="182.75" y1="882.80" x2="182.75" y2="884.10" stroke="#000" stroke-width="2.3" stroke-linecap="round"/>
<line x1="192.05" y1="884.50" x2="192.05" y2="884.80" stroke="#111" stroke-width="2.3" stroke-linecap="round"/>
<line x1="187.40" y1="889.10" x2="187.40" y2="895.60" stroke="#000" stroke-width="2.2" stroke-linecap="butt"/>
<rect x="202.80" y="824.20" width="9.30" height="64.90" fill="#000"/>
<rect x="212.10" y="861.20" width="9.30" height="27.90" fill="#a2a3a7"/>
<line x1="207.45" y1="818.80" x2="207.45" y2="825.20" stroke="#000" stroke-width="2.3" stroke-linecap="round"/>
<line x1="216.75" y1="859.40" x2="216.75" y2="863.00" stroke="#111" stroke-width="2.3" stroke-linecap="round"/>
<line x1="212.10" y1="889.10" x2="212.10" y2="895.60" stroke="#000" stroke-width="2.2" stroke-linecap="butt"/>
<rect x="227.30" y="663.50" width="9.30" height="225.60" fill="#000"/>
<rect x="236.60" y="763.20" width="9.30" height="125.90" fill="#a2a3a7"/>
<line x1="231.95" y1="639.20" x2="231.95" y2="664.50" stroke="#000" stroke-width="2.3" stroke-linecap="round"/>
<line x1="241.25" y1="755.80" x2="241.25" y2="770.60" stroke="#111" stroke-width="2.3" stroke-linecap="round"/>
<line x1="236.60" y1="889.10" x2="236.60" y2="895.60" stroke="#000" stroke-width="2.2" stroke-linecap="butt"/>
<rect x="275.40" y="883.00" width="9.30" height="6.10" fill="#000"/>
<rect x="284.70" y="884.60" width="9.30" height="4.50" fill="#a2a3a7"/>
<line x1="280.05" y1="882.70" x2="280.05" y2="884.00" stroke="#000" stroke-width="2.3" stroke-linecap="round"/>
<line x1="289.35" y1="884.90" x2="289.35" y2="885.20" stroke="#111" stroke-width="2.3" stroke-linecap="round"/>
<line x1="284.70" y1="889.10" x2="284.70" y2="895.60" stroke="#000" stroke-width="2.2" stroke-linecap="butt"/>
<rect x="299.70" y="863.70" width="9.30" height="25.40" fill="#000"/>
<rect x="309.00" y="874.30" width="9.30" height="14.80" fill="#a2a3a7"/>
<line x1="304.35" y1="860.60" x2="304.35" y2="864.70" stroke="#000" stroke-width="2.3" stroke-linecap="round"/>
<line x1="313.65" y1="872.80" x2="313.65" y2="875.80" stroke="#111" stroke-width="2.3" stroke-linecap="round"/>
<line x1="309.00" y1="889.10" x2="309.00" y2="895.60" stroke="#000" stroke-width="2.2" stroke-linecap="butt"/>
<rect x="324.90" y="625.40" width="9.30" height="263.70" fill="#000"/>
<rect x="334.20" y="795.50" width="9.30" height="93.60" fill="#a2a3a7"/>
<line x1="329.55" y1="598.80" x2="329.55" y2="626.40" stroke="#000" stroke-width="2.3" stroke-linecap="round"/>
<line x1="338.85" y1="787.80" x2="338.85" y2="803.20" stroke="#111" stroke-width="2.3" stroke-linecap="round"/>
<line x1="334.20" y1="889.10" x2="334.20" y2="895.60" stroke="#000" stroke-width="2.2" stroke-linecap="butt"/>
<rect x="373.00" y="883.20" width="9.30" height="5.90" fill="#000"/>
<rect x="382.30" y="887.30" width="9.30" height="1.80" fill="#a2a3a7"/>
<line x1="377.65" y1="882.90" x2="377.65" y2="884.20" stroke="#000" stroke-width="2.3" stroke-linecap="round"/>
<line x1="386.95" y1="887.60" x2="386.95" y2="887.90" stroke="#111" stroke-width="2.3" stroke-linecap="round"/>
<line x1="382.30" y1="889.10" x2="382.30" y2="895.60" stroke="#000" stroke-width="2.2" stroke-linecap="butt"/>
<rect x="397.40" y="874.30" width="9.30" height="14.80" fill="#000"/>
<rect x="406.70" y="880.60" width="9.30" height="8.50" fill="#a2a3a7"/>
<line x1="402.05" y1="872.40" x2="402.05" y2="875.30" stroke="#000" stroke-width="2.3" stroke-linecap="round"/>
<line x1="411.35" y1="879.00" x2="411.35" y2="882.20" stroke="#111" stroke-width="2.3" stroke-linecap="round"/>
<line x1="406.70" y1="889.10" x2="406.70" y2="895.60" stroke="#000" stroke-width="2.2" stroke-linecap="butt"/>
<rect x="421.60" y="789.10" width="9.30" height="100.00" fill="#000"/>
<rect x="430.90" y="848.60" width="9.30" height="40.50" fill="#a2a3a7"/>
<line x1="426.25" y1="786.30" x2="426.25" y2="790.10" stroke="#000" stroke-width="2.3" stroke-linecap="round"/>
<line x1="435.55" y1="845.40" x2="435.55" y2="851.80" stroke="#111" stroke-width="2.3" stroke-linecap="round"/>
<line x1="430.90" y1="889.10" x2="430.90" y2="895.60" stroke="#000" stroke-width="2.2" stroke-linecap="butt"/>
<line x1="164.10" y1="569.80" x2="164.10" y2="904.80" stroke="#000" stroke-width="2.8" stroke-linecap="round" stroke-dasharray="3.8 7.3"/>
<line x1="261.80" y1="569.80" x2="261.80" y2="904.80" stroke="#000" stroke-width="2.8" stroke-linecap="round" stroke-dasharray="3.8 7.3"/>
<line x1="358.30" y1="569.80" x2="358.30" y2="904.80" stroke="#000" stroke-width="2.8" stroke-linecap="round" stroke-dasharray="3.8 7.3"/>
<line x1="105.90" y1="859.20" x2="123.40" y2="859.20" stroke="#000" stroke-width="3.8" stroke-linecap="butt"/>
<text x="115.75" y="856.70" font-size="20" text-anchor="middle" fill="#111">*</text>
<line x1="129.00" y1="821.60" x2="147.00" y2="821.60" stroke="#000" stroke-width="3.8" stroke-linecap="butt"/>
<text x="139.10" y="819.60" font-size="20" text-anchor="middle" fill="#111">**</text>
<line x1="205.00" y1="811.50" x2="222.40" y2="811.50" stroke="#000" stroke-width="3.8" stroke-linecap="butt"/>
<text x="214.80" y="810.80" font-size="20" text-anchor="middle" fill="#111">**</text>
<line x1="230.60" y1="632.00" x2="248.20" y2="632.00" stroke="#000" stroke-width="3.8" stroke-linecap="butt"/>
<text x="240.50" y="631.00" font-size="20" text-anchor="middle" fill="#111">*</text>
<line x1="301.00" y1="852.80" x2="319.00" y2="852.80" stroke="#000" stroke-width="3.8" stroke-linecap="butt"/>
<text x="311.10" y="850.60" font-size="20" text-anchor="middle" fill="#111">*</text>
<line x1="327.00" y1="590.70" x2="344.40" y2="590.70" stroke="#000" stroke-width="3.8" stroke-linecap="butt"/>
<text x="336.80" y="589.10" font-size="20" text-anchor="middle" fill="#111">**</text>
<line x1="398.10" y1="862.90" x2="415.80" y2="862.90" stroke="#000" stroke-width="3.8" stroke-linecap="butt"/>
<text x="408.05" y="860.50" font-size="20" text-anchor="middle" fill="#111">*</text>
<line x1="423.20" y1="771.40" x2="441.30" y2="771.40" stroke="#000" stroke-width="3.8" stroke-linecap="butt"/>
<text x="433.35" y="771.00" font-size="20" text-anchor="middle" fill="#111">***</text>
<text x="95.00" y="762.00" font-size="18" font-weight="bold" text-anchor="start" fill="#000">CCL2</text>
<text x="195.20" y="606.60" font-size="18" font-weight="bold" text-anchor="start" fill="#000">IL-6</text>
<text x="287.80" y="566.80" font-size="18" font-weight="bold" text-anchor="start" fill="#000">TNF-<tspan font-weight="normal" font-size="19.5" stroke="#000" stroke-width="0.35">α</tspan></text>
<text x="374.60" y="736.20" font-size="18.2" font-weight="bold" text-anchor="start" fill="#000">IL-8</text>
<rect x="105.90" y="529.40" width="22.80" height="9.40" fill="#000"/>
<rect x="105.90" y="550.40" width="22.80" height="9.20" fill="#a2a3a7"/>
<text x="142.20" y="539.30" font-size="15.6" font-weight="bold" text-anchor="start" fill="#000" letter-spacing="0.45">PCAGGS</text>
<text x="142.20" y="559.80" font-size="15.6" font-weight="bold" text-anchor="start" fill="#000" letter-spacing="0.6">SOD1</text>
<text x="93.80" y="906.40" font-size="15.5" text-anchor="end" fill="#000" transform="rotate(-45 93.8 906.4)">12</text>
<text x="117.80" y="906.40" font-size="15.5" text-anchor="end" fill="#000" transform="rotate(-45 117.8 906.4)">24</text>
<text x="141.80" y="906.40" font-size="15.5" text-anchor="end" fill="#000" transform="rotate(-45 141.79999999999998 906.4)">48</text>
<text x="190.60" y="906.40" font-size="15.5" text-anchor="end" fill="#000" transform="rotate(-45 190.6 906.4)">12</text>
<text x="215.30" y="906.40" font-size="15.5" text-anchor="end" fill="#000" transform="rotate(-45 215.29999999999998 906.4)">24</text>
<text x="239.80" y="906.40" font-size="15.5" text-anchor="end" fill="#000" transform="rotate(-45 239.79999999999998 906.4)">48</text>
<text x="287.90" y="906.40" font-size="15.5" text-anchor="end" fill="#000" transform="rotate(-45 287.9 906.4)">12</text>
<text x="312.20" y="906.40" font-size="15.5" text-anchor="end" fill="#000" transform="rotate(-45 312.2 906.4)">24</text>
<text x="337.40" y="906.40" font-size="15.5" text-anchor="end" fill="#000" transform="rotate(-45 337.4 906.4)">48</text>
<text x="385.50" y="906.40" font-size="15.5" text-anchor="end" fill="#000" transform="rotate(-45 385.5 906.4)">12</text>
<text x="409.90" y="906.40" font-size="15.5" text-anchor="end" fill="#000" transform="rotate(-45 409.9 906.4)">24</text>
<text x="434.10" y="906.40" font-size="15.5" text-anchor="end" fill="#000" transform="rotate(-45 434.09999999999997 906.4)">48</text>
<text x="260.50" y="944.80" font-size="18.3" font-weight="bold" text-anchor="middle" fill="#000">hours post-infection</text>
<text x="40.60" y="722.30" font-size="18" font-weight="bold" text-anchor="middle" fill="#000" transform="rotate(-90 40.6 722.3)">Relative expression</text>
<line x1="554.50" y1="656.52" x2="554.50" y2="891.10" stroke="#000" stroke-width="2.3" stroke-linecap="butt"/>
<line x1="548.30" y1="890.10" x2="740.20" y2="890.10" stroke="#000" stroke-width="2.3" stroke-linecap="butt"/>
<line x1="548.30" y1="890.10" x2="554.50" y2="890.10" stroke="#000" stroke-width="2.2" stroke-linecap="butt"/>
<text x="544.90" y="895.40" font-size="17" font-weight="bold" text-anchor="end" fill="#000">0</text>
<line x1="548.30" y1="831.98" x2="554.50" y2="831.98" stroke="#000" stroke-width="2.2" stroke-linecap="butt"/>
<text x="544.90" y="837.28" font-size="17" font-weight="bold" text-anchor="end" fill="#000">50</text>
<line x1="548.30" y1="773.86" x2="554.50" y2="773.86" stroke="#000" stroke-width="2.2" stroke-linecap="butt"/>
<text x="544.90" y="779.16" font-size="17" font-weight="bold" text-anchor="end" fill="#000">100</text>
<line x1="548.30" y1="715.74" x2="554.50" y2="715.74" stroke="#000" stroke-width="2.2" stroke-linecap="butt"/>
<text x="544.90" y="721.04" font-size="17" font-weight="bold" text-anchor="end" fill="#000">150</text>
<line x1="548.30" y1="657.62" x2="554.50" y2="657.62" stroke="#000" stroke-width="2.2" stroke-linecap="butt"/>
<text x="544.90" y="662.92" font-size="17" font-weight="bold" text-anchor="end" fill="#000">200</text>
<path d="M560.45,890.10 L560.45,869.20 Q560.45,866.70 562.95,866.70 L591.85,866.70 Q594.35,866.70 594.35,869.20 L594.35,890.10 Z" fill="#000"/>
<line x1="577.40" y1="890.10" x2="577.40" y2="897.10" stroke="#000" stroke-width="2.2" stroke-linecap="butt"/>
<line x1="577.40" y1="865.00" x2="577.40" y2="867.70" stroke="#000" stroke-width="3.6" stroke-linecap="butt"/>
<line x1="569.80" y1="865.00" x2="585.00" y2="865.00" stroke="#000" stroke-width="3.6" stroke-linecap="butt"/>
<path d="M607.05,890.10 L607.05,869.20 Q607.05,866.70 609.55,866.70 L638.45,866.70 Q640.95,866.70 640.95,869.20 L640.95,890.10 Z" fill="#a0a0a4"/>
<line x1="624.00" y1="890.10" x2="624.00" y2="897.10" stroke="#000" stroke-width="2.2" stroke-linecap="butt"/>
<line x1="624.00" y1="865.60" x2="624.00" y2="867.70" stroke="#000" stroke-width="3.6" stroke-linecap="butt"/>
<line x1="616.40" y1="865.60" x2="631.60" y2="865.60" stroke="#000" stroke-width="3.6" stroke-linecap="butt"/>
<path d="M653.25,890.10 L653.25,729.50 Q653.25,727.00 655.75,727.00 L684.65,727.00 Q687.15,727.00 687.15,729.50 L687.15,890.10 Z" fill="#7f7f7f"/>
<line x1="670.20" y1="890.10" x2="670.20" y2="897.10" stroke="#000" stroke-width="2.2" stroke-linecap="butt"/>
<line x1="670.20" y1="707.20" x2="670.20" y2="728.00" stroke="#000" stroke-width="3.6" stroke-linecap="butt"/>
<line x1="662.60" y1="707.20" x2="677.80" y2="707.20" stroke="#000" stroke-width="3.6" stroke-linecap="butt"/>
<path d="M699.65,890.10 L699.65,795.50 Q699.65,793.00 702.15,793.00 L731.05,793.00 Q733.55,793.00 733.55,795.50 L733.55,890.10 Z" fill="#d4d4d4"/>
<line x1="716.60" y1="890.10" x2="716.60" y2="897.10" stroke="#000" stroke-width="2.2" stroke-linecap="butt"/>
<line x1="716.60" y1="783.30" x2="716.60" y2="794.00" stroke="#000" stroke-width="3.6" stroke-linecap="butt"/>
<line x1="709.00" y1="783.30" x2="724.20" y2="783.30" stroke="#000" stroke-width="3.6" stroke-linecap="butt"/>
<line x1="667.50" y1="692.90" x2="721.50" y2="692.90" stroke="#000" stroke-width="3.9" stroke-linecap="butt"/>
<text x="696.70" y="689.60" font-size="22" text-anchor="middle" fill="#111">*</text>
<text x="0" y="0" transform="translate(647.00 630.00) scale(0.91 1)" font-size="24.6" font-weight="bold" text-anchor="middle" fill="#000">IL-6</text>
<text x="502.20" y="773.60" font-size="22.9" font-weight="bold" text-anchor="middle" fill="#000" transform="rotate(-90 502.2 773.6)">pg/ml</text>
<text x="582.40" y="910.10" font-size="17.8" font-weight="bold" text-anchor="end" fill="#000" transform="rotate(-45 582.4 910.1)">PCAGGS</text>
<text x="629.00" y="910.10" font-size="17.8" font-weight="bold" text-anchor="end" fill="#000" transform="rotate(-45 629.0 910.1)">SOD1</text>
<text x="675.20" y="910.10" font-size="17.8" font-weight="bold" text-anchor="end" fill="#000" transform="rotate(-45 675.2 910.1)">PCAGGS+DW</text>
<text x="721.60" y="910.10" font-size="17.8" font-weight="bold" text-anchor="end" fill="#000" transform="rotate(-45 721.6 910.1)">SOD1+DW</text>
<line x1="831.50" y1="656.60" x2="831.50" y2="888.60" stroke="#000" stroke-width="2.3" stroke-linecap="butt"/>
<line x1="825.30" y1="887.60" x2="1013.50" y2="887.60" stroke="#000" stroke-width="2.3" stroke-linecap="butt"/>
<line x1="825.30" y1="887.60" x2="831.50" y2="887.60" stroke="#000" stroke-width="2.2" stroke-linecap="butt"/>
<text x="821.90" y="892.90" font-size="17" font-weight="bold" text-anchor="end" fill="#000">0</text>
<line x1="825.30" y1="841.62" x2="831.50" y2="841.62" stroke="#000" stroke-width="2.2" stroke-linecap="butt"/>
<text x="821.90" y="846.92" font-size="17" font-weight="bold" text-anchor="end" fill="#000">200</text>
<line x1="825.30" y1="795.64" x2="831.50" y2="795.64" stroke="#000" stroke-width="2.2" stroke-linecap="butt"/>
<text x="821.90" y="800.94" font-size="17" font-weight="bold" text-anchor="end" fill="#000">400</text>
<line x1="825.30" y1="749.66" x2="831.50" y2="749.66" stroke="#000" stroke-width="2.2" stroke-linecap="butt"/>
<text x="821.90" y="754.96" font-size="17" font-weight="bold" text-anchor="end" fill="#000">600</text>
<line x1="825.30" y1="703.68" x2="831.50" y2="703.68" stroke="#000" stroke-width="2.2" stroke-linecap="butt"/>
<text x="821.90" y="708.98" font-size="17" font-weight="bold" text-anchor="end" fill="#000">800</text>
<line x1="825.30" y1="657.70" x2="831.50" y2="657.70" stroke="#000" stroke-width="2.2" stroke-linecap="butt"/>
<text x="821.90" y="663.00" font-size="17" font-weight="bold" text-anchor="end" fill="#000">1000</text>
<path d="M837.65,887.60 L837.65,870.90 Q837.65,868.40 840.15,868.40 L868.25,868.40 Q870.75,868.40 870.75,870.90 L870.75,887.60 Z" fill="#000"/>
<line x1="854.20" y1="887.60" x2="854.20" y2="894.60" stroke="#000" stroke-width="2.2" stroke-linecap="butt"/>
<line x1="854.20" y1="866.00" x2="854.20" y2="869.40" stroke="#000" stroke-width="3.6" stroke-linecap="butt"/>
<line x1="846.60" y1="866.00" x2="861.80" y2="866.00" stroke="#000" stroke-width="3.6" stroke-linecap="butt"/>
<path d="M883.35,887.60 L883.35,870.00 Q883.35,867.50 885.85,867.50 L913.95,867.50 Q916.45,867.50 916.45,870.00 L916.45,887.60 Z" fill="#a0a0a4"/>
<line x1="899.90" y1="887.60" x2="899.90" y2="894.60" stroke="#000" stroke-width="2.2" stroke-linecap="butt"/>
<line x1="899.90" y1="864.50" x2="899.90" y2="868.50" stroke="#000" stroke-width="3.6" stroke-linecap="butt"/>
<line x1="892.30" y1="864.50" x2="907.50" y2="864.50" stroke="#000" stroke-width="3.6" stroke-linecap="butt"/>
<path d="M928.45,887.60 L928.45,705.30 Q928.45,702.80 930.95,702.80 L959.05,702.80 Q961.55,702.80 961.55,705.30 L961.55,887.60 Z" fill="#7f7f7f"/>
<line x1="945.00" y1="887.60" x2="945.00" y2="894.60" stroke="#000" stroke-width="2.2" stroke-linecap="butt"/>
<line x1="945.00" y1="683.30" x2="945.00" y2="703.80" stroke="#000" stroke-width="3.6" stroke-linecap="butt"/>
<line x1="937.40" y1="683.30" x2="952.60" y2="683.30" stroke="#000" stroke-width="3.6" stroke-linecap="butt"/>
<path d="M973.65,887.60 L973.65,769.30 Q973.65,766.80 976.15,766.80 L1004.25,766.80 Q1006.75,766.80 1006.75,769.30 L1006.75,887.60 Z" fill="#d4d4d4"/>
<line x1="990.20" y1="887.60" x2="990.20" y2="894.60" stroke="#000" stroke-width="2.2" stroke-linecap="butt"/>
<line x1="990.20" y1="745.20" x2="990.20" y2="767.80" stroke="#000" stroke-width="3.6" stroke-linecap="butt"/>
<line x1="982.60" y1="745.20" x2="997.80" y2="745.20" stroke="#000" stroke-width="3.6" stroke-linecap="butt"/>
<line x1="941.90" y1="666.10" x2="995.40" y2="666.10" stroke="#000" stroke-width="3.9" stroke-linecap="butt"/>
<text x="971.10" y="662.60" font-size="22" text-anchor="middle" fill="#111">*</text>
<text x="0" y="0" transform="translate(922.40 630.80) scale(0.91 1)" font-size="23.0" font-weight="bold" text-anchor="middle" fill="#000">TNF-<tspan font-weight="normal" font-size="24" stroke="#000" stroke-width="0.7">α</tspan></text>
<text x="774.00" y="771.90" font-size="22.0" font-weight="bold" text-anchor="middle" fill="#000" transform="rotate(-90 774.0 771.9)">pg/ml</text>
<text x="857.80" y="907.20" font-size="17.4" font-weight="bold" text-anchor="end" fill="#000" transform="rotate(-45 857.8000000000001 907.2)">PCAGGS</text>
<text x="903.50" y="907.20" font-size="17.4" font-weight="bold" text-anchor="end" fill="#000" transform="rotate(-45 903.5 907.2)">SOD1</text>
<text x="948.60" y="907.20" font-size="17.4" font-weight="bold" text-anchor="end" fill="#000" transform="rotate(-45 948.6 907.2)">PCAGGS+DW</text>
<text x="993.80" y="907.20" font-size="17.4" font-weight="bold" text-anchor="end" fill="#000" transform="rotate(-45 993.8000000000001 907.2)">SOD1+DW</text>
</svg>
</body></html>
